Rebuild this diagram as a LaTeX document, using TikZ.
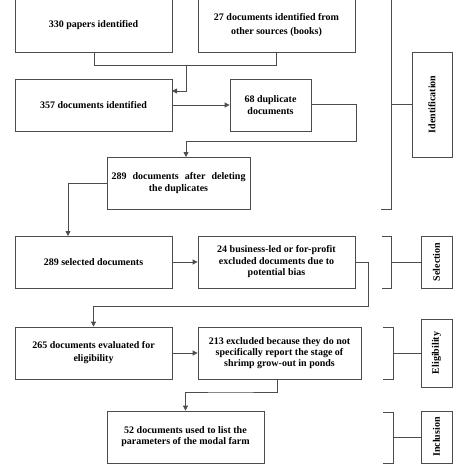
\documentclass[tikz,border=0pt]{standalone}
\usepackage{fontspec}
\setmainfont{Liberation Serif}
\usetikzlibrary{arrows.meta}
\begin{document}
\begin{tikzpicture}[x=1pt,y=-1pt,
  line width=0.8pt,
  every node/.style={font=\fontsize{10}{11.5}\selectfont\bfseries, text=black},
  box/.style={draw=black!70, fill=white, inner sep=0pt, align=center, minimum width=157pt, minimum height=52pt},
  side/.style={draw=black!70, fill=white, inner sep=0pt, minimum width=31pt, minimum height=52pt},
  conn/.style={draw=black!70},
  arr/.style={draw=black!70, -{Triangle[length=5pt,width=5pt]}}]
\useasboundingbox (0,0) rectangle (474,474);
\clip (0,0) rectangle (474,474);
% boxes
\node[box, minimum height=54pt] (b1) at (93.5,25) {330 papers identified};
\node[box, minimum height=54pt, font=\fontsize{10}{14}\selectfont\bfseries] (b2) at (276.5,25) {27 documents identified from\\other sources (books)};
\node[box] (b3) at (93.5,105) {357 documents identified};
\node[box, minimum width=81pt] (b4) at (270.5,105) {68 duplicate\\documents};
\node[box, minimum width=143pt] (b5) at (178.5,183) {\makebox[134pt][s]{289 documents after deleting}\\the duplicates};
\node[box] (b6) at (93.5,262) {289 selected documents};
\node[box] (b7) at (276.5,262) {24 business-led or for-profit\\excluded documents due to\\potential bias};
\node[box, font=\fontsize{10}{13}\selectfont\bfseries] (b8) at (93.5,353) {265 documents evaluated for\\eligibility};
\node[box, minimum width=163pt, font=\fontsize{10}{11}\selectfont\bfseries] (b9) at (279.5,353) {213 excluded because they do not\\specifically report the stage of\\shrimp grow-out in ponds};
\node[box, font=\fontsize{10}{11}\selectfont\bfseries] (b10) at (185.5,437) {52 documents used to list the\\parameters of the modal farm};
% side labels
\node[side, minimum width=40pt, minimum height=105pt] (sid) at (432,104.5) {\rotatebox{90}{Identification}};
\node[side] (ssel) at (436.5,262) {\rotatebox{90}{Selection}};
\node[side, minimum height=68pt] (sel2) at (436.5,353) {\rotatebox{90}{Eligibility}};
\node[side] (sinc) at (436.5,437) {\rotatebox{90}{Inclusion}};
% brackets
\draw[conn] (381,-5) -- (391,-5) -- (391,209) -- (381,209);
\coordinate (bid) at (391,104.5);
\draw[conn] (bid) -- (sid.west);
\draw[conn] (382,236) -- (391,236) -- (391,288) -- (382,288);
\coordinate (bsel) at (391,262);
\draw[conn] (bsel) -- (ssel.west);
\draw[conn] (383,327) -- (393,327) -- (393,379) -- (383,379);
\coordinate (belig) at (393,353);
\draw[conn] (belig) -- (sel2.west);
\draw[conn] (383,412) -- (393,412) -- (393,463) -- (383,463);
\coordinate (binc) at (393,437);
\draw[conn] (binc) -- (sinc.west);
% connectors
\coordinate (j1) at (186,65);
\coordinate (t3) at (172,91);
\draw[conn] (b1.south -| 94,0) |- (j1);
\draw[conn] (b2.south) |- (j1);
\draw[arr] (j1) |- (t3);
\draw[arr] (b3.east) -- (b4.west);
\coordinate (s4) at (311,104);
\coordinate (c4) at (356,141);
\coordinate (t5) at (186,157);
\draw[arr] (s4) -| (c4) -| (t5);
\coordinate (t6) at (68,236);
\draw[arr] (b5.west) -| (t6);
\draw[arr] (b6.east) -- (b7.west);
\coordinate (c7) at (368,306);
\draw[arr] (b7.east) -| (c7) -| (b8.north);
\draw[arr] (b8.east) -- (b9.west);
\coordinate (s9) at (277,379);
\coordinate (c9) at (230,392);
\draw[arr] (s9) |- (c9) -| (b10.north);
\end{tikzpicture}
\end{document}
